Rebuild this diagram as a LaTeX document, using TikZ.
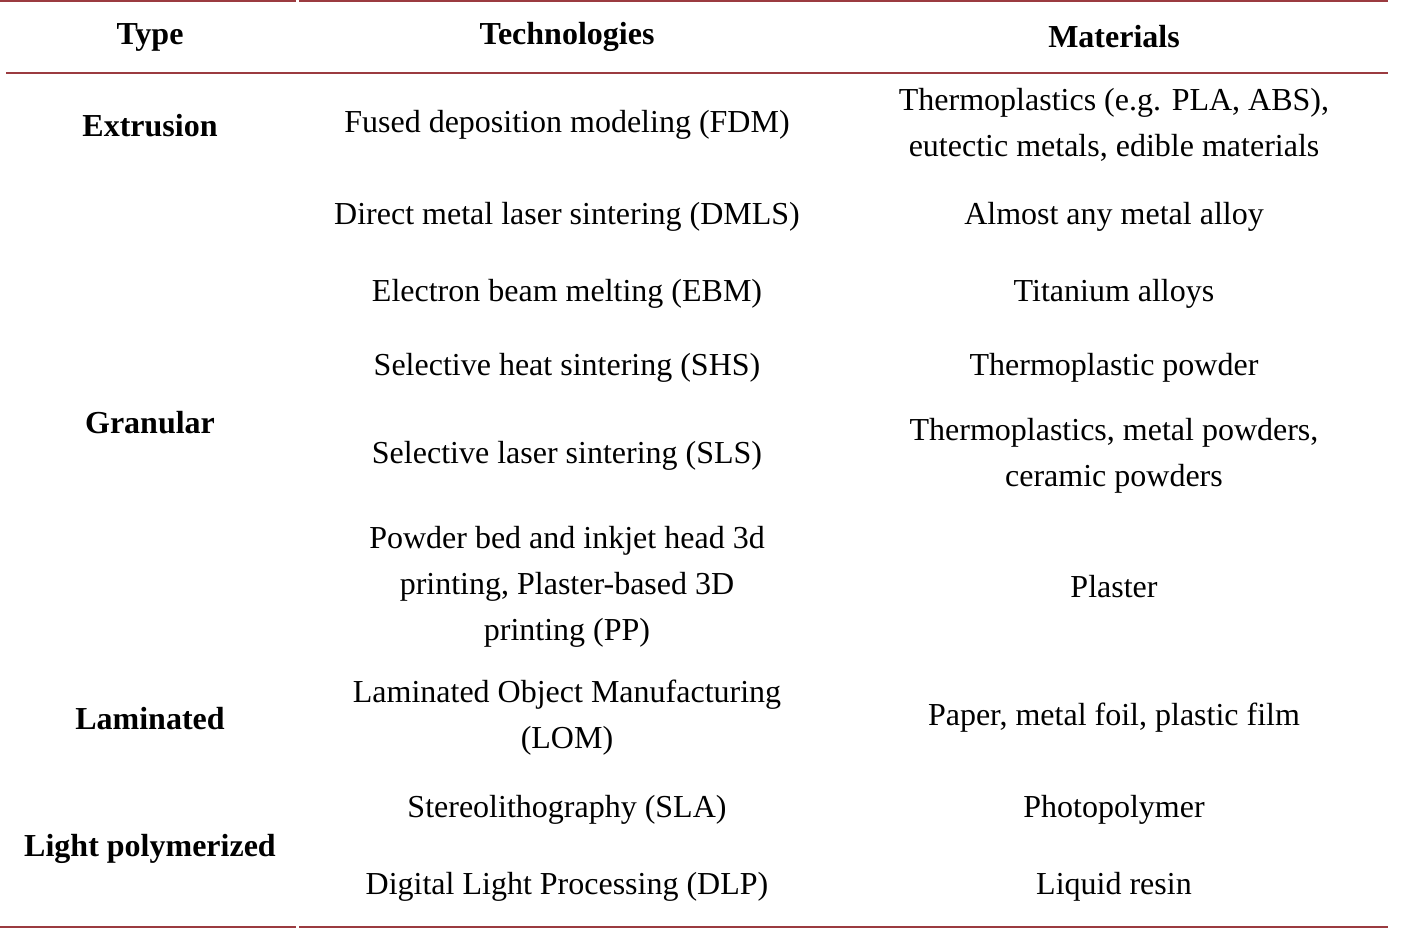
\documentclass[tikz,border=0pt]{standalone}
\usepackage{fontspec}
\setmainfont{Liberation Serif}
\definecolor{rule}{HTML}{9B3B40}
\begin{document}
\begin{tikzpicture}[x=0.5pt,y=-0.5pt,
  cell/.style={align=center,font=\fontsize{16}{23}\selectfont,inner sep=0pt},
  head/.style={cell,font=\fontsize{16}{23}\selectfont\bfseries},
  rl/.style={draw=rule,line width=1pt}]
\useasboundingbox (0,0) rectangle (1404,934);
\coordinate (t0) at (0,1); \coordinate (t1) at (296,1);
\coordinate (t2) at (299,1); \coordinate (t3) at (1388,1);
\coordinate (m0) at (6,73); \coordinate (m1) at (1388,73);
\coordinate (b0) at (0,927); \coordinate (b1) at (296,927);
\coordinate (b2) at (299,927); \coordinate (b3) at (1388,927);
\draw[rl] (t0)--(t1); \draw[rl] (t2)--(t3);
\draw[rl] (m0)--(m1);
\draw[rl] (b0)--(b1); \draw[rl] (b2)--(b3);
\node[head] (h1) at (150,37) {Type};
\node[head] (h2) at (567,37) {Technologies};
\node[head] (h3) at (1114,37) {Materials};
\node[head] (ty1) at (150,126) {Extrusion};
\node[head] (ty2) at (150,423) {Granular};
\node[head] (ty3) at (150,719) {Laminated};
\node[head] (ty4) at (150,849) {Light polymerized};
\node[cell] (c1) at (567,125) {Fused deposition modeling (FDM)};
\node[cell] (c2) at (567,217) {Direct metal laser sintering (DMLS)};
\node[cell] (c3) at (567,294) {Electron beam melting (EBM)};
\node[cell] (c4) at (567,368) {Selective heat sintering (SHS)};
\node[cell] (c5) at (567,456) {Selective laser sintering (SLS)};
\node[cell] (c6) at (567,587) {Powder bed and inkjet head 3d\\printing, Plaster-based 3D\\printing (PP)};
\node[cell] (c7) at (567,718) {Laminated Object Manufacturing\\(LOM)};
\node[cell] (c8) at (567,810) {Stereolithography (SLA)};
\node[cell] (c9) at (567,887) {Digital Light Processing (DLP)};
\node[cell] (d1) at (1114,125) {Thermoplastics (e.g. PLA, ABS),\\eutectic metals, edible materials};
\node[cell] (d2) at (1114,217) {Almost any metal alloy};
\node[cell] (d3) at (1114,294) {Titanium alloys};
\node[cell] (d4) at (1114,368) {Thermoplastic powder};
\node[cell] (d5) at (1114,456) {Thermoplastics, metal powders,\\ceramic powders};
\node[cell] (d6) at (1114,587) {Plaster};
\node[cell] (d7) at (1114,718) {Paper, metal foil, plastic film};
\node[cell] (d8) at (1114,810) {Photopolymer};
\node[cell] (d9) at (1114,887) {Liquid resin};
\end{tikzpicture}
\end{document}
